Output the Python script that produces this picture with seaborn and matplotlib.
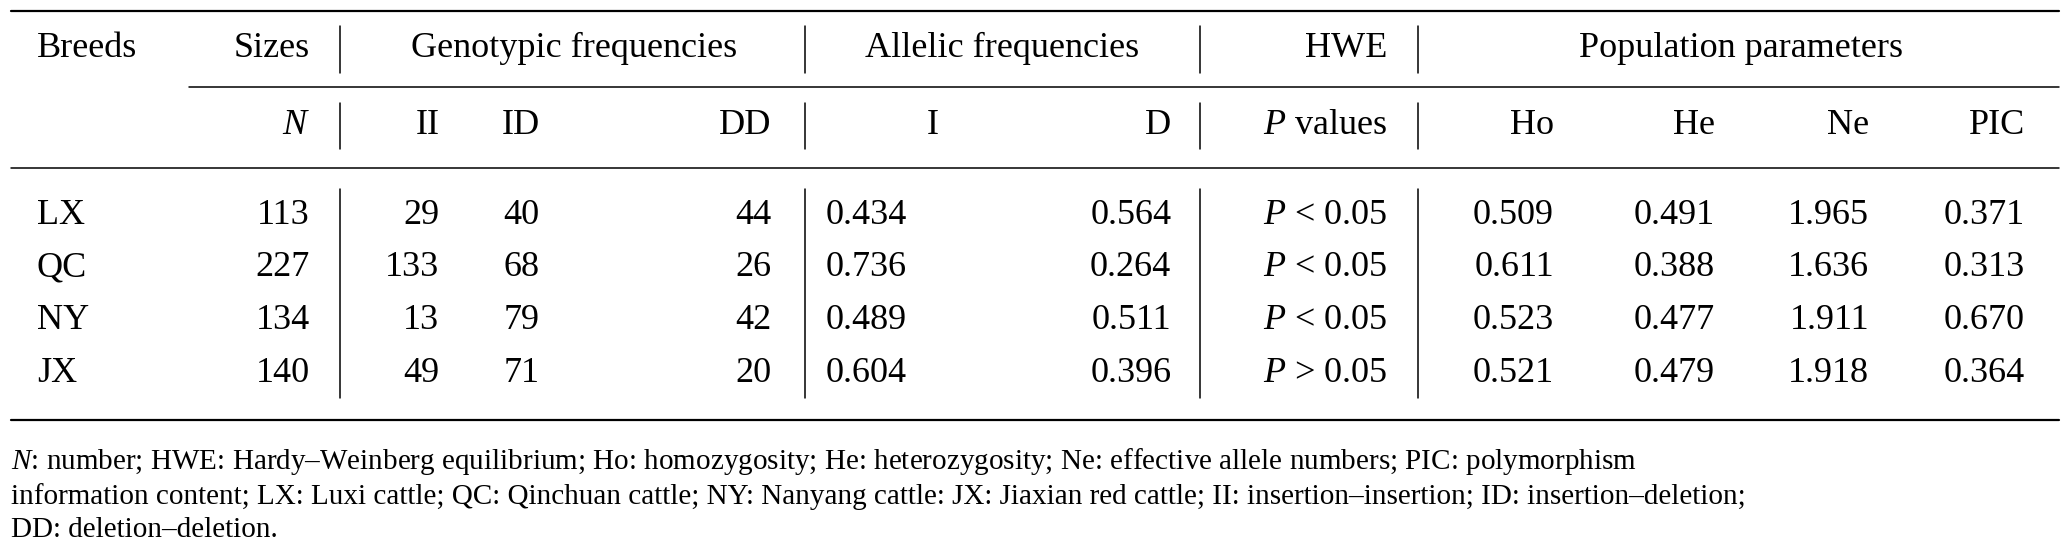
import matplotlib
matplotlib.use("Agg")
import matplotlib.pyplot as plt
import seaborn as sns

breeds = ["LX", "QC", "NY", "JX"]
sizes = ["113", "227", "134", "140"]
geno_ii = ["29", "133", "13", "49"]
geno_id = ["40", "68", "79", "71"]
geno_dd = ["44", "26", "42", "20"]
allele_i = ["0.434", "0.736", "0.489", "0.604"]
allele_d = ["0.564", "0.264", "0.511", "0.396"]
hwe = ["$P$ < 0.05", "$P$ < 0.05", "$P$ < 0.05", "$P$ > 0.05"]
ho = ["0.509", "0.611", "0.523", "0.521"]
he = ["0.491", "0.388", "0.477", "0.479"]
ne = ["1.965", "1.636", "1.911", "1.918"]
pic = ["0.371", "0.313", "0.670", "0.364"]

footnote = [
    "$N$: number; HWE: Hardy–Weinberg equilibrium; Ho: homozygosity; He: heterozygosity; Ne: effective allele numbers; PIC: polymorphism",
    "information content; LX: Luxi cattle; QC: Qinchuan cattle; NY: Nanyang cattle: JX: Jiaxian red cattle; II: insertion–insertion; ID: insertion–deletion;",
    "DD: deletion–deletion.",
]

sns.set_theme(style="white")
plt.rcParams["font.family"] = ["Liberation Serif", "DejaVu Serif"]
plt.rcParams["mathtext.fontset"] = "custom"
plt.rcParams["mathtext.rm"] = "Liberation Serif"
plt.rcParams["mathtext.it"] = "Liberation Serif:italic"

fig = plt.figure(figsize=(20.67, 5.6), dpi=100)
ax = fig.add_axes([0, 0, 1, 1])
# work in the 1567-wide layout coordinates
ax.set_xlim(0, 1567)
ax.set_ylim(424.5, 0)
ax.axis("off")

fs = 26
kw = dict(fontsize=fs, va="center", color="black")

# rules
ax.plot([8, 1561], [8, 8], color="black", lw=1.6)
ax.plot([143, 1561], [66, 66], color="black", lw=1.1)
ax.plot([8, 1561], [127, 127], color="black", lw=1.1)
ax.plot([8, 1561], [318, 318], color="black", lw=1.6)

# vertical separators
for x in [258, 610, 910, 1075]:
    for y0, y1 in [(20, 55), (78, 113), (143, 302)]:
        ax.plot([x, x], [y0, y1], color="black", lw=1.1)

# header row 1
ax.text(28, 37, "Breeds", ha="left", **kw)
ax.text(235, 37, "Sizes", ha="right", **kw)
ax.text(435, 37, "Genotypic frequencies", ha="center", **kw)
ax.text(760, 37, "Allelic frequencies", ha="center", **kw)
ax.text(1052, 37, "HWE", ha="right", **kw)
ax.text(1320, 37, "Population parameters", ha="center", **kw)

# header row 2
cols = [235, 333, 409, 585, None, 888, 1052, 1178, 1300, 1417, 1535]
heads = ["$N$", "II", "ID", "DD", "I", "D", "$P$ values", "Ho", "He", "Ne", "PIC"]
for x, h in zip(cols, heads):
    if x is None:
        ax.text(707, 95, h, ha="center", **kw)
    else:
        ax.text(x, 95, h, ha="right", **kw)

# data rows
row_y = [163, 203, 243, 283]
series = [sizes, geno_ii, geno_id, geno_dd, allele_i, allele_d, hwe, ho, he, ne, pic]
for i, y in enumerate(row_y):
    ax.text(28, y, breeds[i], ha="left", **kw)
    for x, s in zip(cols, series):
        if x is None:
            ax.text(626, y, s[i], ha="left", **kw)
        else:
            ax.text(x, y, s[i], ha="right", **kw)

for j, line in enumerate(footnote):
    ax.text(8, 350 + 26 * j, line, ha="left", fontsize=21, va="center", color="black")

fig.savefig("out.png", dpi=100)
